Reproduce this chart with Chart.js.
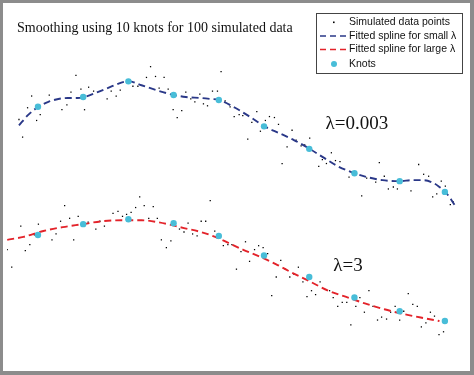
<!DOCTYPE html>
<html>
<head>
<meta charset="utf-8">
<script src="https://cdn.jsdelivr.net/npm/chart.js@4"></script>
<style>
  html, body { margin: 0; padding: 0; background: #fff; }
  #frame {
    width: 467px; height: 368px;
    border-style: solid; border-color: #8c8c8c;
    border-width: 3px 4px 4px 3px;
    background: #fff;
  }
  canvas { display: block; }
</style>
</head>
<body>
<div id="frame"><canvas id="chart" width="467" height="368"></canvas></div>
<script>
// simulerade data, övre kurvan (litet lambda)
var topDotX = [3.3, 4.1, 5.2, 6.1, 7.2, 8.0, 10.0, 12.8, 13.9, 14.8, 15.9, 17.0, 17.8, 18.7, 19.8,
  22.8, 23.7, 24.8, 25.7, 28.5, 29.6, 31.5, 32.4, 33.5, 34.3, 35.4, 36.3, 37.4, 38.3, 39.3,
  40.2, 41.3, 42.2, 43.3, 44.1, 45.0, 46.1, 47.2, 48.0, 48.9, 50.0, 50.9, 52.0, 52.8, 53.9,
  54.8, 55.9, 56.7, 57.8, 58.7, 59.8, 60.7, 61.5, 62.6, 63.7, 64.6, 65.7, 66.5, 67.6, 69.6,
  70.4, 71.3, 72.4, 73.3, 74.3, 76.3, 79.1, 80.2, 82.2, 83.0, 84.1, 85.0, 86.1, 87.0, 90.0,
  91.7, 92.8, 93.9, 94.8, 95.7, 96.7, 97.6, 98.7, 99.3];
var topDotY = [2.54, 2.36, 2.66, 2.78, 2.53, 2.59, 2.79, 2.64, 2.69, 2.82, 2.99, 2.85, 2.64, 2.87, 2.83,
  2.75, 2.83, 2.78, 2.84, 2.88, 2.88, 2.97, 3.08, 2.98, 2.86, 2.97, 2.85, 2.64, 2.56, 2.63,
  2.82, 2.75, 2.72, 2.80, 2.70, 2.68, 2.83, 2.83, 3.03, 2.73, 2.67, 2.57, 2.59, 2.58, 2.34,
  2.51, 2.62, 2.42, 2.53, 2.57, 2.56, 2.49, 2.09, 2.26, 2.43, 2.33, 2.27, 2.28, 2.35, 2.06,
  2.13, 2.09, 2.20, 2.12, 2.11, 1.95, 1.76, 1.94, 1.90, 2.10, 1.96, 1.83, 1.85, 1.83, 1.81,
  2.08, 1.98, 1.96, 1.75, 1.78, 1.91, 1.86, 1.67, 1.70];

// simulerade data, nedre kurvan (stort lambda)
var lowDotX = [0.7, 1.7, 3.7, 4.7, 5.7, 6.7, 7.6, 10.6, 11.5, 12.5, 13.4, 14.5, 15.4, 16.4, 18.6,
  20.3, 21.2, 22.2, 24.1, 25.2, 26.2, 27.1, 28.1, 29.1, 30.0, 31.0, 32.0, 33.0, 33.9, 34.8,
  35.9, 36.9, 38.8, 39.8, 40.7, 41.7, 42.7, 43.6, 44.6, 45.6, 46.6, 48.5, 49.5, 50.4, 51.4,
  52.4, 53.4, 54.3, 55.4, 56.3, 57.3, 58.3, 59.2, 60.2, 61.2, 62.2, 63.2, 64.1, 65.1, 66.1,
  67.0, 68.0, 68.9, 69.9, 72.0, 72.8, 73.8, 74.8, 75.8, 76.7, 77.8, 78.7, 79.7, 80.7, 81.6,
  82.6, 83.5, 84.6, 85.5, 86.5, 87.5, 88.4, 89.4, 90.4, 91.4, 92.3, 93.3, 94.3, 95.2, 96.2, 97.2];
var lowDotY = [1.21, 1.03, 1.45, 1.20, 1.26, 1.36, 1.47, 1.31, 1.37, 1.50, 1.66, 1.53, 1.31, 1.55, 1.49,
  1.42, 1.50, 1.45, 1.58, 1.60, 1.55, 1.57, 1.59, 1.64, 1.75, 1.66, 1.53, 1.65, 1.53, 1.31,
  1.23, 1.30, 1.42, 1.39, 1.48, 1.37, 1.35, 1.50, 1.50, 1.71, 1.40, 1.25, 1.26, 1.26, 1.01,
  1.19, 1.29, 1.09, 1.21, 1.25, 1.23, 1.17, 0.74, 0.93, 1.10, 1.01, 0.93, 0.96, 1.03, 0.88,
  0.73, 0.79, 0.75, 0.88, 0.79, 0.72, 0.63, 0.67, 0.67, 0.44, 0.63, 0.72, 0.57, 0.79, 0.63,
  0.49, 0.52, 0.50, 0.57, 0.63, 0.49, 0.58, 0.76, 0.65, 0.63, 0.42, 0.46, 0.57, 0.53, 0.34, 0.37];

// anpassad spline, litet lambda
var smallFitX = [3.3, 5.4, 7.6, 9.8, 12.0, 14.1, 16.3, 17.8, 20.7, 23.9, 26.1, 27.6, 30.4, 33.7, 35.9,
  37.6, 40.2, 43.5, 45.7, 47.6, 51.1, 54.3, 57.6, 60.9, 64.1, 67.6, 70.7, 73.9, 77.6, 80.4,
  83.7, 87.6, 90.2, 92.8, 95.0, 96.3, 97.6, 98.9, 100.0];
var smallFitY = [2.48, 2.59, 2.67, 2.72, 2.75, 2.76, 2.76, 2.77, 2.82, 2.88, 2.92, 2.93, 2.89, 2.84, 2.81,
  2.79, 2.77, 2.76, 2.75, 2.74, 2.66, 2.57, 2.47, 2.40, 2.33, 2.24, 2.15, 2.06, 1.99, 1.95,
  1.92, 1.91, 1.92, 1.92, 1.89, 1.85, 1.80, 1.72, 1.64];

// anpassad spline, stort lambda
var largeFitX = [0.7, 4.3, 8.7, 13.0, 17.4, 21.7, 26.1, 30.4, 34.1, 39.8, 43.5, 46.7, 50.0, 52.8, 56.5,
  60.2, 63.0, 67.4, 71.7, 76.1, 79.8, 84.1, 88.5, 92.8, 96.3];
var largeFitY = [1.31, 1.34, 1.40, 1.44, 1.47, 1.50, 1.51, 1.51, 1.49, 1.43, 1.39, 1.34, 1.27, 1.21, 1.14,
  1.06, 0.99, 0.89, 0.79, 0.72, 0.66, 0.60, 0.55, 0.51, 0.48];

// knutar
var knotX = [7.5, 17.5, 27.5, 37.5, 47.5, 57.5, 67.5, 77.5, 87.5, 97.5];
var smallKnotY = [2.67, 2.77, 2.93, 2.79, 2.74, 2.47, 2.24, 1.99, 1.91, 1.80];
var largeKnotY = [1.36, 1.47, 1.52, 1.48, 1.35, 1.15, 0.93, 0.72, 0.58, 0.48];

var titleText = 'Smoothing using 10 knots for 100 simulated data';
var lambdaLabels = ['\u03bb=0.003', '\u03bb=3'];
var lambdaAt = [[71.1, 2.44], [72.8, 0.99]];

var blue = '#2a3888';
var red = '#e3232a';
var cyan = '#48bdd8';

function pts(xs, ys) {
  return xs.map(function(x, i) { return { x: x, y: ys[i] }; });
}

var legendItems = [
  { text: 'Simulated data points', kind: 'dot', color: '#000' },
  { text: 'Fitted spline for small \u03bb', kind: 'dash', color: blue },
  { text: 'Fitted spline for large \u03bb', kind: 'dash', color: red },
  { text: 'Knots', kind: 'knot', color: cyan }
];

// rita titel, lambda-texter och legend
var extras = {
  id: 'extras',
  afterDraw: function(chart) {
    var ctx = chart.ctx;
    var xs = chart.scales.x, ys = chart.scales.y;
    ctx.save();
    ctx.fillStyle = '#111';
    ctx.textBaseline = 'alphabetic';
    ctx.font = '14px "Liberation Serif"';
    ctx.fillText(titleText, 14, 29);

    ctx.font = '19px "Liberation Serif"';
    lambdaLabels.forEach(function(t, i) {
      ctx.fillText(t, xs.getPixelForValue(lambdaAt[i][0]), ys.getPixelForValue(lambdaAt[i][1]));
    });

    // legend
    ctx.fillStyle = '#fff';
    ctx.fillRect(313, 10, 147, 60);
    ctx.strokeStyle = '#444';
    ctx.lineWidth = 1;
    ctx.strokeRect(313.5, 10.5, 146, 60);
    var rows = [19.5, 33, 46.5, 61];
    ctx.font = '10.5px "Liberation Sans"';
    ctx.textBaseline = 'middle';
    legendItems.forEach(function(it, i) {
      var y = rows[i];
      if (it.kind === 'dot') {
        ctx.fillStyle = it.color;
        ctx.fillRect(330, y - 1, 1.6, 1.6);
      } else if (it.kind === 'dash') {
        ctx.strokeStyle = it.color;
        ctx.lineWidth = 1.5;
        ctx.setLineDash([6, 4]);
        ctx.beginPath();
        ctx.moveTo(317, y);
        ctx.lineTo(345, y);
        ctx.stroke();
        ctx.setLineDash([]);
      } else {
        ctx.fillStyle = it.color;
        ctx.beginPath();
        ctx.arc(331, y, 3, 0, Math.PI * 2);
        ctx.fill();
      }
      ctx.fillStyle = '#111';
      ctx.fillText(it.text, 346, y);
    });
    ctx.restore();
  }
};

var ctx = document.getElementById('chart').getContext('2d');
new Chart(ctx, {
  type: 'scatter',
  data: {
    datasets: [
      { label: 'Knots (small)', data: pts(knotX, smallKnotY), order: 0,
        pointRadius: 3.2, pointBackgroundColor: cyan, pointBorderWidth: 0, showLine: false },
      { label: 'Knots (large)', data: pts(knotX, largeKnotY), order: 0,
        pointRadius: 3.2, pointBackgroundColor: cyan, pointBorderWidth: 0, showLine: false },
      { label: 'Fitted spline for small', data: pts(smallFitX, smallFitY), order: 1,
        showLine: true, borderColor: blue, borderWidth: 1.9, borderDash: [7, 4],
        pointRadius: 0, cubicInterpolationMode: 'monotone' },
      { label: 'Fitted spline for large', data: pts(largeFitX, largeFitY), order: 1,
        showLine: true, borderColor: red, borderWidth: 1.9, borderDash: [7, 4],
        pointRadius: 0, cubicInterpolationMode: 'monotone' },
      { label: 'Simulated (top)', data: pts(topDotX, topDotY), order: 2,
        pointStyle: 'rect', pointRadius: 0.9, pointBackgroundColor: '#000', pointBorderWidth: 0 },
      { label: 'Simulated (low)', data: pts(lowDotX, lowDotY), order: 2,
        pointStyle: 'rect', pointRadius: 0.9, pointBackgroundColor: '#000', pointBorderWidth: 0 }
    ]
  },
  options: {
    responsive: false,
    animation: false,
    layout: { padding: 0 },
    plugins: { legend: { display: false }, tooltip: { enabled: false } },
    scales: {
      x: { type: 'linear', min: 0.652, max: 102.17, display: false },
      y: { type: 'linear', min: 0.01, max: 3.69, display: false }
    }
  },
  plugins: [extras]
});
</script>
</body>
</html>
